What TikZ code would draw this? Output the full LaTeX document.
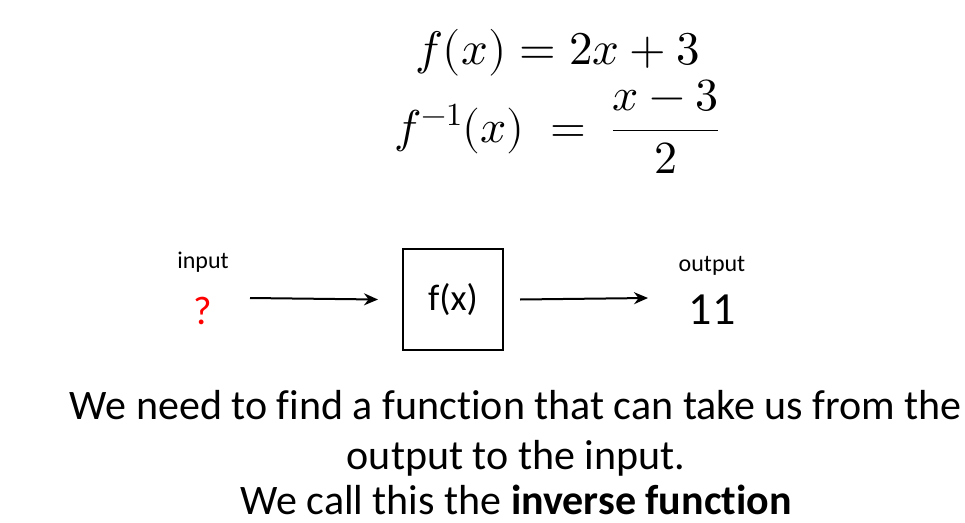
\documentclass[tikz,border=0pt]{standalone}
\usepackage{fontspec}
\setmainfont{Carlito}[Ligatures=NoCommon]
\usepackage{unicode-math}
\setmathfont{Latin Modern Math}
\usetikzlibrary{arrows.meta}
\begin{document}
\begin{tikzpicture}[x=1pt,y=-1pt,
  lbl/.style={inner sep=0pt,anchor=base},
  arr/.style={-{Stealth[length=14pt,width=12pt]},line width=2pt}]
\useasboundingbox (0,0) rectangle (965,522);
\node[lbl,font=\fontsize{47}{50}\selectfont] (eq1) at (558,64) {$f(x)=2x+3$};
\node[lbl,font=\fontsize{46}{50}\selectfont] (eq2) at (557,142) {$f^{-1}(x)\;=\;\dfrac{x-3}{2}$};
\node[lbl,font=\fontsize{24}{28}\selectfont] (in) at (203,268) {input};
\node[lbl,font=\fontsize{40}{44}\selectfont,text=red] (q) at (203,324) {?};
\node[draw,line width=1.5pt,minimum width=100pt,minimum height=101pt,inner sep=0pt,font=\fontsize{37}{40}\selectfont] (f) at (453,299.5) {f(x)};
\coordinate (a1) at (250,298);
\node[lbl,font=\fontsize{24}{28}\selectfont] (out) at (712,271) {output};
\node[lbl,font=\fontsize{46}{50}\selectfont] (o) at (712,324) {11};
\coordinate (b2) at (648,298);
\draw[arr] (a1) -- (f.west -| 378,298);
\draw[arr] (f.east -| 520,298) -- (b2);
\node[lbl,font=\fontsize{42}{44}\selectfont] (t1) at (516,419) {We need to find a function that can take us from the};
\node[lbl,font=\fontsize{42}{44}\selectfont] (t2) at (516,469) {output to the input.};
\node[lbl,font=\fontsize{42}{44}\selectfont] (t3) at (516,514) {We call this the \textbf{inverse function}};
\end{tikzpicture}
\end{document}
